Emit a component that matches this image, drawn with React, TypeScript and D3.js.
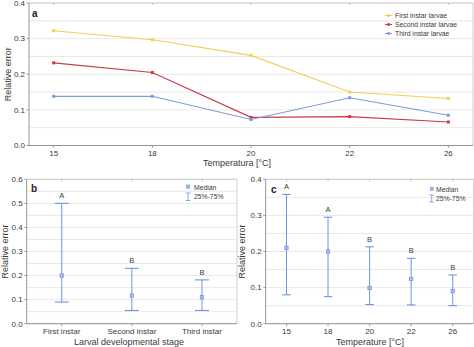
import React from "react";
import * as d3 from "d3";

const temps = ["15", "18", "20", "22", "26"];
const firstInstar = [0.322, 0.297, 0.253, 0.15, 0.132];
const secondInstar = [0.232, 0.205, 0.079, 0.081, 0.066];
const thirdInstar = [0.138, 0.138, 0.073, 0.134, 0.085];
const seriesNames = ["First instar larvae", "Second instar larvae", "Third instar larvae"];
const seriesColors = ["#f2cf55", "#c93a4a", "#7f9be0"];

const stages = ["First instar", "Second instar", "Third instar"];
const stageMedian = [0.2, 0.117, 0.11];
const stageQ25 = [0.09, 0.055, 0.055];
const stageQ75 = [0.5, 0.23, 0.182];
const stageLetters = ["A", "B", "B"];

const tempMedian = [0.21, 0.2, 0.099, 0.124, 0.09];
const tempQ25 = [0.08, 0.075, 0.053, 0.052, 0.05];
const tempQ75 = [0.358, 0.295, 0.213, 0.181, 0.135];
const tempLetters = ["A", "A", "B", "B", "B"];

const FONT = "Liberation Sans, Arial, sans-serif";
const BLUE = "#7095dc";
const TXT = "#3a3a3a";

type Box = { l: number; r: number; t: number; b: number };

function Frame({ box, y, x, yTicks, fmt }: { box: Box; y: d3.ScaleLinear<number, number>; x: d3.ScalePoint<string>; yTicks: number[]; fmt: (v: number) => string }) {
  const grid = d3.range(0, y.domain()[1] + 1e-9, 0.05);
  return (
    <g>
      <rect x={box.l} y={box.t} width={box.r - box.l} height={box.b - box.t} fill="#fff" />
      {grid.map((g, i) => (
        <line key={"g" + i} x1={box.l} x2={box.r} y1={y(g)} y2={y(g)} stroke="#e2e2e2" strokeWidth={0.8} />
      ))}
      <line x1={box.l} x2={box.r} y1={box.t} y2={box.t} stroke="#c4c4c4" strokeWidth={0.8} />
      <line x1={box.r} x2={box.r} y1={box.t} y2={box.b} stroke="#c4c4c4" strokeWidth={0.8} />
      <line x1={box.l} x2={box.l} y1={box.t} y2={box.b} stroke="#8a8a8a" strokeWidth={0.9} />
      <line x1={box.l} x2={box.r} y1={box.b} y2={box.b} stroke="#8a8a8a" strokeWidth={0.9} />
      {yTicks.map((t, i) => (
        <g key={"y" + i}>
          <line x1={box.l - 2.5} x2={box.l} y1={y(t)} y2={y(t)} stroke="#8a8a8a" strokeWidth={0.8} />
          <text x={box.l - 4} y={y(t) + 2.8} fontSize={8} textAnchor="end" fill={TXT} fontFamily={FONT}>{fmt(t)}</text>
        </g>
      ))}
      {x.domain().map((c) => (
        <g key={"x" + c}>
          <line x1={x(c)} x2={x(c)} y1={box.b} y2={box.b + 2.5} stroke="#8a8a8a" strokeWidth={0.8} />
          <line x1={x(c)} x2={x(c)} y1={box.t} y2={box.t + 2} stroke="#aaa" strokeWidth={0.8} />
          <text x={x(c)} y={box.b + 10.5} fontSize={8} textAnchor="middle" fill={TXT} fontFamily={FONT}>{c}</text>
        </g>
      ))}
    </g>
  );
}

export default function App() {
  const fmt = d3.format(".1f");

  const A: Box = { l: 29, r: 473, t: 3, b: 145.5 };
  const xa = d3.scalePoint<string>().domain(temps).range([A.l, A.r]).padding(0.25);
  const ya = d3.scaleLinear().domain([0, 0.4]).range([A.b, A.t]);
  const allSeries = [firstInstar, secondInstar, thirdInstar];
  const line = d3.line<number>().x((_, i) => xa(temps[i]) as number).y((v) => ya(v));

  const B: Box = { l: 26.7, r: 237, t: 179.3, b: 323.7 };
  const xb = d3.scalePoint<string>().domain(stages).range([B.l, B.r]).padding(0.5);
  const yb = d3.scaleLinear().domain([0, 0.6]).range([B.b, B.t]);

  const C: Box = { l: 265.7, r: 473.5, t: 179.3, b: 323.7 };
  const xc = d3.scalePoint<string>().domain(temps).range([C.l, C.r]).padding(0.5);
  const yc = d3.scaleLinear().domain([0, 0.4]).range([C.b, C.t]);

  const whisker = (cx: number, yLo: number, yHi: number, yMed: number, capW: number, key: string) => (
    <g key={key}>
      <line x1={cx} x2={cx} y1={yHi} y2={yLo} stroke={BLUE} strokeWidth={1} />
      <line x1={cx - capW / 2} x2={cx + capW / 2} y1={yHi} y2={yHi} stroke={BLUE} strokeWidth={1.1} />
      <line x1={cx - capW / 2} x2={cx + capW / 2} y1={yLo} y2={yLo} stroke={BLUE} strokeWidth={1.1} />
      <rect x={cx - 1.7} y={yMed - 1.7} width={3.4} height={3.4} fill="#a9bdf0" stroke={BLUE} strokeWidth={0.7} />
    </g>
  );

  return (
    <svg width={474} height={347} style={{ position: "absolute", left: 0, top: 0 }}>
      <rect width={474} height={347} fill="#fff" />
      <Frame box={A} y={ya} x={xa} yTicks={[0, 0.1, 0.2, 0.3, 0.4]} fmt={fmt} />
      {allSeries.map((s, si) => (
        <g key={"s" + si}>
          <path d={line(s) || ""} fill="none" stroke={seriesColors[si]} strokeWidth={1.1} />
          {s.map((v, i) => (
            <rect key={i} x={(xa(temps[i]) as number) - 1.5} y={ya(v) - 1.5} width={3} height={3} fill={seriesColors[si]} />
          ))}
        </g>
      ))}
      <text x={32} y={17} fontSize={10} fontWeight="bold" fontFamily={FONT} fill="#222">a</text>
      {seriesNames.map((n, i) => (
        <g key={"l" + i}>
          <line x1={385} x2={392} y1={15.5 + i * 9} y2={15.5 + i * 9} stroke={seriesColors[i]} strokeWidth={1} />
          <rect x={387.3} y={14.2 + i * 9} width={2.6} height={2.6} fill={seriesColors[i]} />
          <text x={395} y={18 + i * 9} fontSize={6.8} fontFamily={FONT} fill={TXT}>{n}</text>
        </g>
      ))}
      <text x={8} y={(A.t + A.b) / 2} fontSize={9} textAnchor="middle" fontFamily={FONT} fill={TXT} transform={`rotate(-90, 8, ${(A.t + A.b) / 2})`} dy={3}>Relative error</text>
      <text x={237} y={166} fontSize={9} textAnchor="middle" fontFamily={FONT} fill={TXT}>Temperatura [°C]</text>

      <Frame box={B} y={yb} x={xb} yTicks={[0, 0.1, 0.2, 0.3, 0.4, 0.5, 0.6]} fmt={fmt} />
      {stages.map((s, i) =>
        whisker(xb(s) as number, yb(stageQ25[i]), yb(stageQ75[i]), yb(stageMedian[i]), 14, "b" + i)
      )}
      {stages.map((s, i) => (
        <text key={"bl" + i} x={xb(s) as number} y={yb(stageQ75[i]) - 5} fontSize={7.5} textAnchor="middle" fontFamily={FONT} fill={TXT}>{stageLetters[i]}</text>
      ))}
      <text x={31} y={192} fontSize={10} fontWeight="bold" fontFamily={FONT} fill="#222">b</text>
      <rect x={186.5} y={185} width={3.2} height={3.2} fill="#a9bdf0" stroke={BLUE} strokeWidth={0.6} />
      <text x={194} y={189.5} fontSize={6.8} fontFamily={FONT} fill={TXT}>Median</text>
      <line x1={188.1} x2={188.1} y1={193} y2={200.5} stroke={BLUE} strokeWidth={0.8} />
      <line x1={185.6} x2={190.6} y1={193} y2={193} stroke={BLUE} strokeWidth={0.8} />
      <line x1={185.6} x2={190.6} y1={200.5} y2={200.5} stroke={BLUE} strokeWidth={0.8} />
      <text x={194} y={199} fontSize={6.8} fontFamily={FONT} fill={TXT}>25%-75%</text>
      <text x={5} y={(B.t + B.b) / 2} fontSize={9} textAnchor="middle" fontFamily={FONT} fill={TXT} transform={`rotate(-90, 5, ${(B.t + B.b) / 2})`} dy={3}>Relative error</text>
      <text x={129} y={344.5} fontSize={9} textAnchor="middle" fontFamily={FONT} fill={TXT}>Larval developmental stage</text>

      <Frame box={C} y={yc} x={xc} yTicks={[0, 0.1, 0.2, 0.3, 0.4]} fmt={fmt} />
      {temps.map((t, i) =>
        whisker(xc(t) as number, yc(tempQ25[i]), yc(tempQ75[i]), yc(tempMedian[i]), 8.5, "c" + i)
      )}
      {temps.map((t, i) => (
        <text key={"cl" + i} x={xc(t) as number} y={yc(tempQ75[i]) - 5} fontSize={7.5} textAnchor="middle" fontFamily={FONT} fill={TXT}>{tempLetters[i]}</text>
      ))}
      <text x={271} y={193} fontSize={10} fontWeight="bold" fontFamily={FONT} fill="#222">c</text>
      <rect x={430.2} y={187.5} width={3} height={3} fill="#a9bdf0" stroke={BLUE} strokeWidth={0.6} />
      <text x={436} y={192} fontSize={6.8} fontFamily={FONT} fill={TXT}>Median</text>
      <line x1={431.7} x2={431.7} y1={195} y2={202} stroke={BLUE} strokeWidth={0.8} />
      <line x1={429.2} x2={434.2} y1={195} y2={195} stroke={BLUE} strokeWidth={0.8} />
      <line x1={429.2} x2={434.2} y1={202} y2={202} stroke={BLUE} strokeWidth={0.8} />
      <text x={436} y={200.5} fontSize={6.8} fontFamily={FONT} fill={TXT}>25%-75%</text>
      <text x={242} y={(C.t + C.b) / 2} fontSize={9} textAnchor="middle" fontFamily={FONT} fill={TXT} transform={`rotate(-90, 242, ${(C.t + C.b) / 2})`} dy={3}>Relative error</text>
      <text x={370} y={344.5} fontSize={9} textAnchor="middle" fontFamily={FONT} fill={TXT}>Temperature [°C]</text>
    </svg>
  );
}
